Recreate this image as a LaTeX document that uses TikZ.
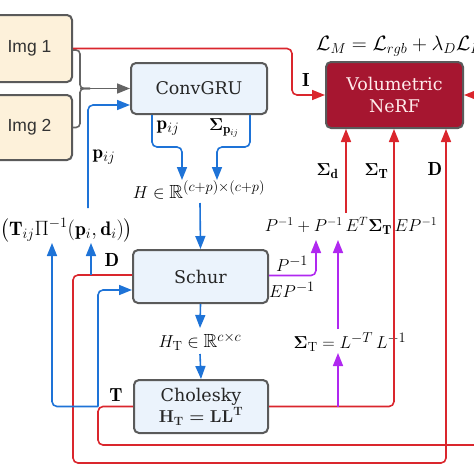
\documentclass[tikz,border=0pt]{standalone}
\usepackage{amsmath,amssymb,bm}
\usepackage{fontspec}
\newfontfamily\boxfont{DejaVu Serif}
\newfontfamily\imgfont{Liberation Sans}
\usetikzlibrary{arrows.meta,calc}
\definecolor{lred}{RGB}{218,38,45}
\definecolor{nerfred}{RGB}{166,22,48}
\definecolor{lblue}{RGB}{30,115,215}
\definecolor{lpurple}{RGB}{176,40,240}
\definecolor{boxgray}{RGB}{90,90,90}
\definecolor{arrgray}{RGB}{100,100,100}
\definecolor{boxfill}{RGB}{235,243,252}
\definecolor{imgfill}{RGB}{253,241,218}
\begin{document}
\begin{tikzpicture}[x=1pt,y=-1pt,
  tip/.style={-{Triangle[length=13pt,width=10pt]}},
  conn/.style={line width=1.6pt, rounded corners=5pt},
  redline/.style={conn, draw=lred},
  redarrow/.style={redline, tip},
  bluearrow/.style={conn, draw=lblue, tip},
  purplearrow/.style={conn, draw=lpurple, tip},
  grayline/.style={conn, draw=arrgray, rounded corners=4pt},
  proc/.style={draw=boxgray, line width=2pt, rounded corners=5pt, fill=boxfill,
    font=\boxfont\fontsize{17.5}{21}\selectfont, align=center, text=black!85},
  nerfbox/.style={draw=boxgray, line width=2pt, rounded corners=5pt, fill=nerfred,
    font=\boxfont\fontsize{17.5}{22}\selectfont, align=center, text=white!92!red},
  imgbox/.style={draw=boxgray, line width=2pt, rounded corners=5pt, fill=imgfill,
    font=\imgfont\fontsize{17.5}{20}\selectfont, text=black!80},
  mt/.style={font=\fontsize{19}{22}\selectfont, inner sep=0pt},
  lbl/.style={font=\fontsize{19}{22}\selectfont, inner sep=1pt}
]
\useasboundingbox (0,0) rectangle (474,474);

% boxes
\node[imgbox, minimum width=85pt, minimum height=67pt] (img1) at (29.5,48.5) {Img 1};
\node[imgbox, minimum width=85pt, minimum height=65pt] (img2) at (29.5,127.5) {Img 2};
\node[proc, minimum width=136pt, minimum height=51pt] (conv) at (199,88.5) {ConvGRU};
\node[nerfbox, minimum width=137pt, minimum height=66pt] (nerf) at (394.5,95) {Volumetric\\NeRF};
\node[proc, minimum width=135pt, minimum height=53pt] (schur) at (200.5,276.5) {Schur};
\node[proc, minimum width=134pt, minimum height=53pt, inner sep=1pt, font=\boxfont\fontsize{17.5}{19}\selectfont] (chol) at (201,406.5) {Cholesky\\[1pt]{\fontsize{18}{19}\selectfont\boldmath$\mathbf{H}_{\mathbf{T}} = \mathbf{LL}^{\mathbf{T}}$}};

% formula nodes
\node[mt, font=\fontsize{19}{22}\selectfont] (H) at (199,190) {$H \in \mathbb{R}^{(c+p)\times(c+p)}$};
\node[mt] (HT) at (200,342) {$H_{\mathrm{T}} \in \mathbb{R}^{c\times c}$};
\node[mt, font=\fontsize{18.6}{22}\selectfont] (PE) at (351,226) {$P^{-1} + P^{-1}\,E^{T}\boldsymbol{\Sigma}_{\mathbf{T}}\,E P^{-1}$};
\node[mt] (ST) at (350,342) {$\boldsymbol{\Sigma}_{\mathrm{T}} = L^{-T}\,L^{-1}$};
\node[mt, font=\fontsize{19.6}{22}\selectfont] (proj) at (66.5,230) {$\bigl(\mathbf{T}_{ij}\Pi^{-1}(\mathbf{p}_i,\mathbf{d}_i)\bigr)$};
\node[mt, anchor=west, font=\fontsize{21}{22}\selectfont] (loss) at (316,46) {$\mathcal{L}_M = \mathcal{L}_{rgb} + \lambda_D\mathcal{L}_D$};

% labels
\node[lbl] (lI) at (306,80) {$\mathbf{I}$};
\node[lbl] (lSd) at (327.5,171) {$\boldsymbol{\Sigma}_{\mathbf{d}}$};
\node[lbl] (lST) at (376.5,171) {$\boldsymbol{\Sigma}_{\mathbf{T}}$};
\node[lbl] (lD) at (435,169) {$\mathbf{D}$};
\node[lbl] (lp1) at (104,157) {$\mathbf{p}_{ij}$};
\node[lbl] (lp2) at (168,128) {$\mathbf{p}_{ij}$};
\node[lbl] (lSp) at (224,128) {$\boldsymbol{\Sigma}_{\mathbf{p}_{ij}}$};
\node[lbl] (lD2) at (112,260) {$\mathbf{D}$};
\node[lbl] (lT) at (116,395) {$\mathbf{T}$};
\node[lbl] (lP) at (292,264) {$P^{-1}$};
\node[lbl] (lEP) at (292,290) {$EP^{-1}$};

% coordinates off the picture
\coordinate (offR) at (490,95);
\coordinate (offB) at (490,445);

% gray bracket
\draw[grayline] ($(img1.east)+(0,1.5)$) -- (80,50) -- (80,88.5) -- (90,88.5);
\draw[grayline] (img2.east) -- (80,127.5) -- (80,88.5) -- (90,88.5);
\draw[conn, draw=arrgray, tip] (80,88.5) -- (conv.west);

% red I
\draw[redarrow] (img1.east) -- (292,48.5) -- (292,95) -- (nerf.west);
\draw[redarrow] (offR) -- (nerf.east);

% blue into ConvGRU
\draw[bluearrow] (88,208) -- (88,105) -- ($(conv.west)+(0,16.5)$);
% ConvGRU outputs
\draw[bluearrow] ($(conv.south)+(-47,0)$) -- (152,147) -- (182,147) -- (182,180);
\draw[bluearrow] ($(conv.south)+(51,0)$) -- (250,147) -- (217,147) -- (217,180);
% vertical chain
\draw[bluearrow] (200,203) -- (schur.north);
\draw[bluearrow] (schur.south) -- (200,328);
\draw[bluearrow] (200,354) -- (chol.north);

% Schur left: D
\draw[redarrow] ($(schur.west)+(0,-1.5)$) -- (73,275) -- (73,463) -- (446,463) -- (nerf.south -| 446,0);
\draw[bluearrow] (91,275) -- (91,243);

% Cholesky left: T
\draw[redline] (chol.west) -- (98,406.5) -- (98,445) -- (offB);
\draw[bluearrow] (98,406.5) -- (98,290) -- ($(schur.west)+(0,13.5)$);
\draw[bluearrow] (98,406.5) -- (52,406.5) -- (52,243);

% Cholesky right
\draw[redarrow] (chol.east) -- (394,406.5) -- (nerf.south -| 394,0);
\draw[purplearrow] (338,406.5) -- (338,353);
\draw[purplearrow] (338,329) -- (338,240);

% Schur right
\draw[purplearrow] ($(schur.east)+(0,-1)$) -- (316,275.5) -- (316,240);

% Sigma_d
\draw[redarrow] (346,213) -- (nerf.south -| 346,0);
\end{tikzpicture}
\end{document}
